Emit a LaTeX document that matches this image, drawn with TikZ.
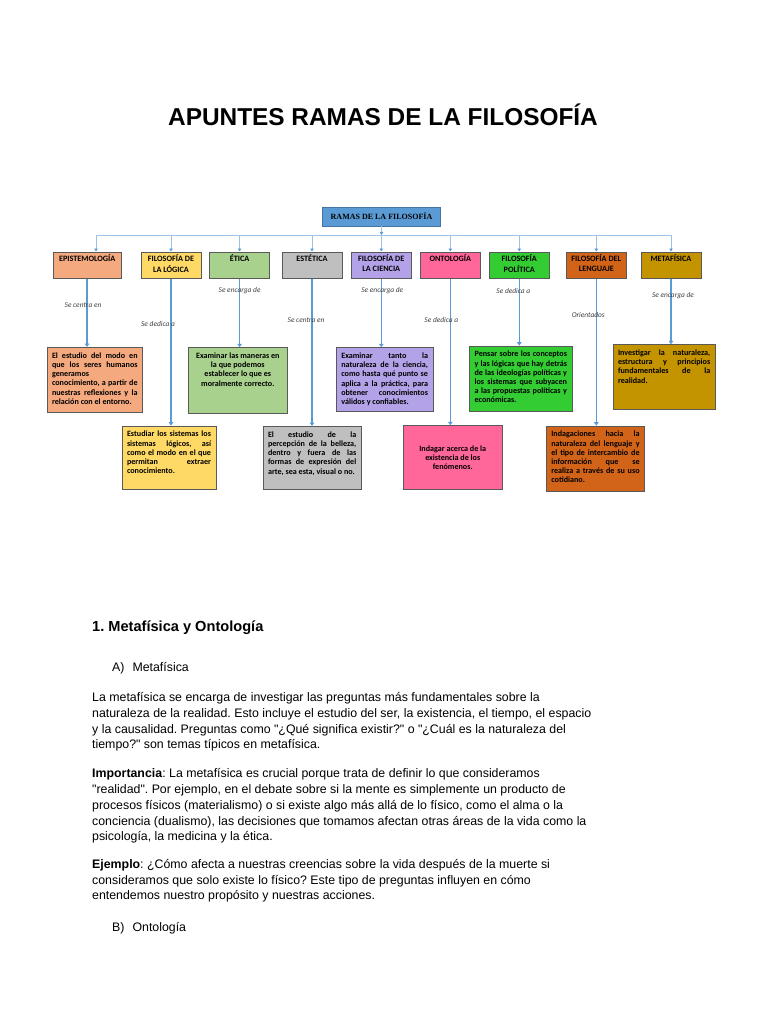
\documentclass[tikz,border=0pt]{standalone}
\usepackage{fontspec}
\setmainfont{Liberation Sans}[Ligatures=TeXOff]
\newfontfamily\boxfont{Carlito}
\newfontfamily\rootfont{Liberation Serif}
\usepackage{xcolor}
\usetikzlibrary{arrows.meta,positioning}
\frenchspacing

\definecolor{rootblue}{HTML}{5B9BD5}
\definecolor{linkblue}{HTML}{5B9BD5}
\definecolor{buslight}{HTML}{9DC3E6}
\definecolor{epicol}{HTML}{F4A97F}
\definecolor{logcol}{HTML}{FFD966}
\definecolor{eticol}{HTML}{A9D18E}
\definecolor{estcol}{HTML}{BFBFBF}
\definecolor{ciecol}{HTML}{B4A2E8}
\definecolor{ontcol}{HTML}{FF6699}
\definecolor{polcol}{HTML}{33CC33}
\definecolor{lencol}{HTML}{D2641A}
\definecolor{metcol}{HTML}{C49400}

\begin{document}
\begin{tikzpicture}[x=1pt, y=-1pt,
  rootbox/.style={draw=rootblue!75!black, fill=rootblue, line width=0.5pt, minimum width=118pt, minimum height=18.7pt, inner sep=0pt, font=\rootfont\bfseries\fontsize{8}{9}\selectfont},
  branch/.style={draw=black!65, line width=0.6pt, anchor=north west, minimum width=60pt, minimum height=26.5pt, inner xsep=2pt, inner ysep=3.3pt, font=\boxfont\bfseries\fontsize{8.2}{9.6}\selectfont, execute at begin node={\begin{minipage}[t][19.9pt][t]{56pt}\strut\centering}, execute at end node={\end{minipage}}},
  descbox/.style n args={3}{draw=black!65, line width=0.6pt, anchor=north west, inner xsep=5pt, inner ysep=4.5pt, font=\boxfont\bfseries\fontsize{8.1}{9.2}\selectfont, execute at begin node={\begin{minipage}[t][#2][#3]{#1}\tolerance=10000 \hbadness=10000 \strut}, execute at end node={\end{minipage}}},
  busline/.style={draw=buslight, line width=0.8pt},
  bustip/.style={busline, -{Triangle[length=3pt, width=3.5pt, color=linkblue]}},
  conn/.style={draw=linkblue, line width=1.3pt, -{Triangle[length=3.5pt, width=4.5pt]}},
  lbl/.style={font=\boxfont\itshape\fontsize{7.4}{8}\selectfont, text=black!75, inner sep=0pt},
  body/.style={inner sep=0pt, font=\fontsize{12.35}{15.7}\selectfont},
  para/.style={body, anchor=north west, align=left}
]
\useasboundingbox (0,0) rectangle (768,1024);

\node[anchor=base, inner sep=0pt, font=\bfseries\fontsize{24.4}{28}\selectfont] (title) at (383,125.7) {APUNTES RAMAS DE LA FILOSOFÍA};

\node[rootbox] (root) at (381.5,216.6) {RAMAS DE LA FILOSOFÍA};
\coordinate (bus) at (381.5,235);

\node[branch, fill=epicol, minimum width=68pt] (epi) at (52.7,251.5) {EPISTEMOLOGÍA};
\node[branch, fill=logcol] (log) at (140.7,251.5) {FILOSOFÍA DE\\LA LÓGICA};
\node[branch, fill=eticol] (eti) at (209.3,251.5) {ÉTICA};
\node[branch, fill=estcol] (est) at (281.7,251.5) {ESTÉTICA};
\node[branch, fill=ciecol] (cie) at (351,251.5) {FILOSOFÍA DE\\LA CIENCIA};
\node[branch, fill=ontcol] (ont) at (420,251.5) {ONTOLOGÍA};
\node[branch, fill=polcol] (pol) at (489,251.5) {FILOSOFÍA\\POLÍTICA};
\node[branch, fill=lencol] (len) at (566,251.5) {FILOSOFÍA DEL\\LENGUAJE};
\node[branch, fill=metcol] (met) at (640.7,251.5) {METAFÍSICA};

\draw[bustip] (root.south) -- (root.south |- bus);
\draw[busline] ([xshift=9pt]epi.north |- bus) -- (met.north |- bus);
\draw[bustip] ([xshift=9pt]epi.north |- bus) -- ([xshift=9pt]epi.north);
\foreach \b in {log,eti,est,cie,ont,pol,len,met}
  \draw[bustip] (\b.north |- bus) -- (\b.north);

\node[descbox={85.6pt}{55.7pt}{t}, fill=epicol] (epid) at (46.7,347) {El estudio del modo en\linebreak que los seres humanos\linebreak generamos\newline conocimiento, a partir de\linebreak nuestras reflexiones y la\linebreak relación con el entorno.};
\node[descbox={84pt}{54.3pt}{t}, fill=logcol] (logd) at (121.7,425.7) {Estudiar los sistemas los\linebreak sistemas lógicos, así\linebreak como el modo en el que\linebreak permitan extraer\linebreak conocimiento.};
\node[descbox={88.4pt}{57pt}{t}, fill=eticol] (etid) at (188.3,347.3) {\centering Examinar las maneras en\\ la que podemos\\ establecer lo que es\\ moralmente correcto.\par};
\node[descbox={88.3pt}{54.3pt}{t}, fill=estcol] (estd) at (262.7,426) {El estudio de la\linebreak percepción de la belleza,\linebreak dentro y fuera de las\linebreak formas de expresión del\linebreak arte, sea esta, visual o no.};
\node[descbox={86.7pt}{54.7pt}{t}, fill=ciecol] (cied) at (336,347.3) {Examinar tanto la\linebreak naturaleza de la ciencia,\linebreak como hasta qué punto se\linebreak aplica a la práctica, para\linebreak obtener conocimientos\linebreak válidos y confiables.};
\node[descbox={88.3pt}{54.3pt}{c}, fill=ontcol] (ontd) at (403.3,425.3) {\centering Indagar acerca de la\\ existencia de los\\ fenómenos.\par};
\node[descbox={92.4pt}{56.3pt}{t}, fill=polcol] (pold) at (469.3,345.7) {Pensar sobre los conceptos\linebreak y las lógicas que hay detrás\linebreak de las ideologías políticas y\linebreak los sistemas que subyacen\linebreak a las propuestas políticas y\linebreak económicas.};
\node[descbox={88.3pt}{56pt}{t}, fill=lencol] (lend) at (546,425.7) {Indagaciones hacia la\linebreak naturaleza del lenguaje y\linebreak el tipo de intercambio de\linebreak información que se\linebreak realiza a través de su uso\linebreak cotidiano.};
\node[descbox={92.3pt}{56pt}{t}, fill=metcol] (metd) at (612.7,344.3) {Investigar la naturaleza,\linebreak estructura y principios\linebreak fundamentales de la\linebreak realidad.};

\draw[conn] (epi.south) -- node[lbl, pos=0.39, xshift=-4pt] {Se centra en} (epi.south |- epid.north);
\draw[conn] (log.south) -- node[lbl, pos=0.31, xshift=-13pt] {Se dedica a} (log.south |- logd.north);
\draw[conn] (eti.south) -- node[lbl, pos=0.17] {Se encarga de} (eti.south |- etid.north);
\draw[conn] (est.south) -- node[lbl, pos=0.28, xshift=-6pt] {Se centra en} (est.south |- estd.north);
\draw[conn] (cie.south) -- node[lbl, pos=0.17, xshift=1pt] {Se encarga de} (cie.south |- cied.north);
\draw[conn] (ont.south) -- node[lbl, pos=0.28, xshift=-9pt] {Se dedica a} (ont.south |- ontd.north);
\draw[conn] (pol.south) -- node[lbl, pos=0.18, xshift=-6pt] {Se dedica a} (pol.south |- pold.north);
\draw[conn] (len.south) -- node[lbl, pos=0.25, xshift=-8pt] {Orientados} (len.south |- lend.north);
\draw[conn] (met.south) -- node[lbl, pos=0.26, xshift=2pt] {Se encarga de} (met.south |- metd.north);

\node[anchor=base west, inner sep=0pt, font=\bfseries\fontsize{14.6}{17}\selectfont] (sec) at (92,631.7) {1. Metafísica y Ontología};
\node[body, anchor=base west] (suba) at (112,671) {A)\hspace{8pt}Metafísica};
\node[para] (p1) at (92,690.7) {\strut La metafísica se encarga de investigar las preguntas más fundamentales sobre la\\
naturaleza de la realidad. Esto incluye el estudio del ser, la existencia, el tiempo, el espacio\\
y la causalidad. Preguntas como "¿Qué significa existir?" o "¿Cuál es la naturaleza del\\
tiempo?" son temas típicos en metafísica.};
\node[para] (p2) at (92,766.7) {\strut\textbf{Importancia}: La metafísica es crucial porque trata de definir lo que consideramos\\
"realidad". Por ejemplo, en el debate sobre si la mente es simplemente un producto de\\
procesos físicos (materialismo) o si existe algo más allá de lo físico, como el alma o la\\
conciencia (dualismo), las decisiones que tomamos afectan otras áreas de la vida como la\\
psicología, la medicina y la ética.};
\node[para] (p3) at (92,857.3) {\strut\textbf{Ejemplo}: ¿Cómo afecta a nuestras creencias sobre la vida después de la muerte si\\
consideramos que solo existe lo físico? Este tipo de preguntas influyen en cómo\\
entendemos nuestro propósito y nuestras acciones.};
\node[body, anchor=base west] (subb) at (112,931) {B)\hspace{8pt}Ontología};
\end{tikzpicture}
\end{document}
